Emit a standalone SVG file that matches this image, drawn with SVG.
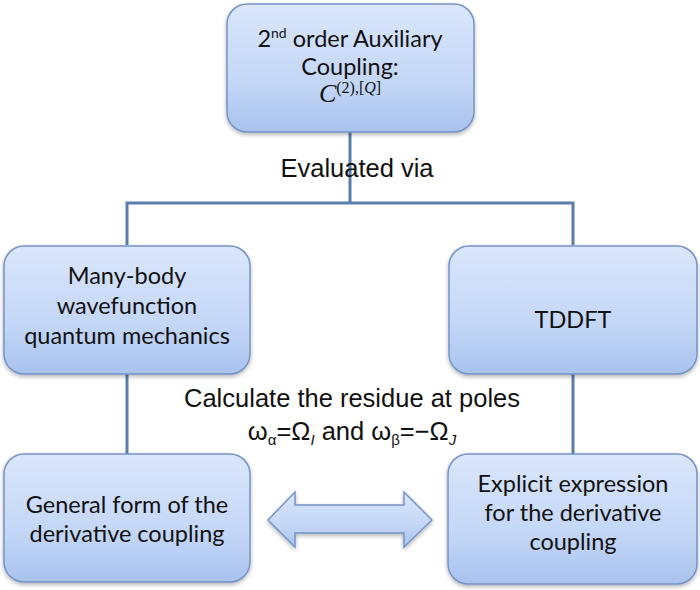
<svg xmlns="http://www.w3.org/2000/svg" width="700" height="590" viewBox="0 0 700 590">
<defs>
<linearGradient id="g" x1="0" y1="0" x2="0" y2="1">
<stop offset="0" stop-color="#dae6fb"/>
<stop offset="0.6" stop-color="#c4d7f7"/>
<stop offset="1" stop-color="#a9c3ee"/>
</linearGradient>
<filter id="sh" x="-10%" y="-10%" width="120%" height="125%">
<feGaussianBlur in="SourceAlpha" stdDeviation="2"/>
<feOffset dx="0" dy="2" result="b"/>
<feComponentTransfer><feFuncA type="linear" slope="0.3"/></feComponentTransfer>
<feMerge><feMergeNode/><feMergeNode in="SourceGraphic"/></feMerge>
</filter>
</defs>
<style>
.box{fill:url(#g);stroke:#7593c6;stroke-width:1.5;filter:url(#sh)}
.t{font-family:Lato,"Noto Sans",sans-serif;font-size:23.5px;fill:#111;text-anchor:middle}
.a{font-family:"Liberation Sans",Arial,sans-serif;font-size:25.5px;fill:#111;text-anchor:middle}
.c{fill:none;stroke:#5a7eae;stroke-width:3}
</style>
<g id="connectors">
<path class="c" d="M350 132 V203 M127 245 V203 H573 V245"/>
<path class="c" d="M127 374 V454 M573 374 V454"/>
</g>
<g id="top">
<rect class="box" x="227" y="4" width="247" height="128" rx="20"/>
<text class="t" x="350" y="47">2<tspan font-size="14" dy="-9">nd</tspan><tspan dy="9"> order Auxiliary</tspan></text>
<text class="t" x="350" y="75">Coupling:</text>
<text x="350" y="102" text-anchor="middle" font-family="'Liberation Serif',serif" fill="#111"><tspan font-size="26" font-style="italic">C</tspan><tspan font-size="16" dy="-9">(2),[</tspan><tspan font-size="16" font-style="italic">Q</tspan><tspan font-size="16">]</tspan></text>
</g>
<text class="a" x="357" y="177">Evaluated via</text>
<g id="manybody">
<rect class="box" x="4" y="246" width="246" height="128" rx="20"/>
<text class="t" x="127" y="284">Many-body</text>
<text class="t" x="127" y="314">wavefunction</text>
<text class="t" x="127" y="344">quantum mechanics</text>
</g>
<g id="tddft">
<rect class="box" x="449" y="246" width="248" height="128" rx="20"/>
<text class="t" x="573" y="328">TDDFT</text>
</g>
<text class="a" x="352" y="407">Calculate the residue at poles</text>
<text class="a" x="352" y="440">ω<tspan font-size="15" dy="5">α</tspan><tspan dy="-5">=Ω</tspan><tspan font-size="15" dy="5" font-style="italic">I</tspan><tspan dy="-5"> and ω</tspan><tspan font-size="15" dy="5">β</tspan><tspan dy="-5">=−Ω</tspan><tspan font-size="15" dy="5" font-style="italic">J</tspan></text>
<g id="general">
<rect class="box" x="4" y="454" width="246" height="128" rx="20"/>
<text class="t" x="127" y="513">General form of the</text>
<text class="t" x="127" y="542">derivative coupling</text>
</g>
<g id="explicit">
<rect class="box" x="448" y="454" width="249" height="130" rx="20"/>
<text class="t" x="573" y="492">Explicit expression</text>
<text class="t" x="573" y="521">for the derivative</text>
<text class="t" x="573" y="550">coupling</text>
</g>
<g id="arrow">
<path class="box" d="M268 520 L295 492 V505 H404 V492 L432 520 L404 547 V533 H295 V547 Z"/>
</g>
</svg>
